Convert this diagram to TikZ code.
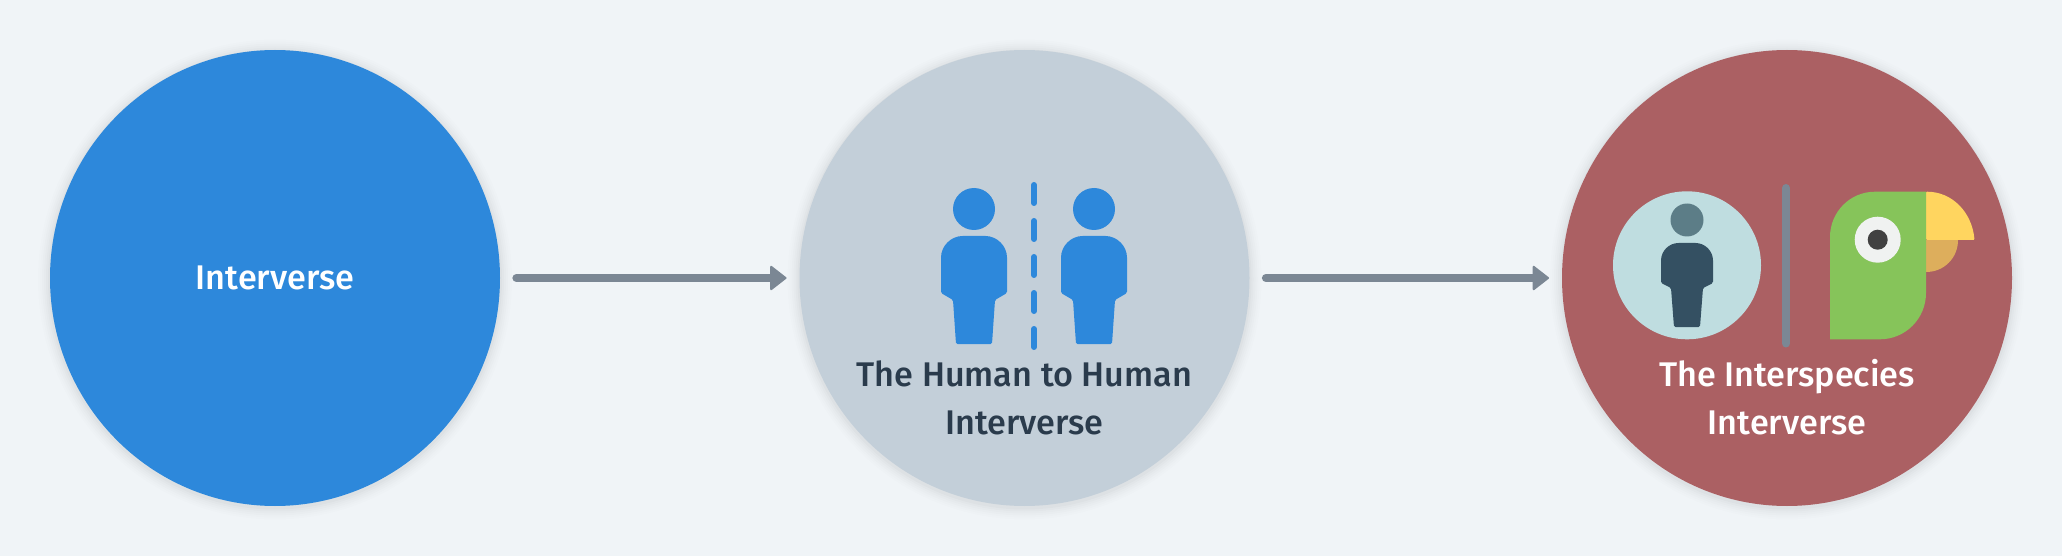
\documentclass[tikz,border=0pt]{standalone}
\usepackage{fontspec}
\setmainfont{Fira Sans}[UprightFont=* Medium]
\usetikzlibrary{arrows.meta,shapes.geometric}
\definecolor{bgc}{HTML}{F0F4F7}
\definecolor{blu}{HTML}{2D88DB}
\definecolor{gry}{HTML}{C3CFD9}
\definecolor{rdc}{HTML}{AB6063}
\definecolor{arr}{HTML}{7B8794}
\definecolor{dkt}{HTML}{2A3B4C}
\definecolor{lbl}{HTML}{BFDDE0}
\definecolor{hdd}{HTML}{5C7D87}
\definecolor{bdd}{HTML}{345062}
\definecolor{grn}{HTML}{86C45A}
\definecolor{yel}{HTML}{FFD55F}
\definecolor{org}{HTML}{DDAE5C}
\definecolor{eyw}{HTML}{F0F2F1}
\definecolor{pup}{HTML}{414141}
\tikzset{
  x=1pt,y=-1pt,
  bigc/.style={ellipse,minimum width=450pt,minimum height=456pt,inner sep=0pt,outer sep=0pt},
  lab/.style={inner sep=0pt,align=center,font=\fontsize{34.2}{48}\selectfont},
  link/.style={arr,line width=8.3pt,line cap=round,shorten <=16.5pt,shorten >=13pt,
    -{Triangle[length=17pt,width=26pt,round,line width=2pt]}},
  fig/.style={blu},
}
\begin{document}
\begin{tikzpicture}
\useasboundingbox (0,0) rectangle (2062,556);
\fill[bgc] (0,0) rectangle (2062,556);
% soft shadows
\foreach \cx in {275,1024.5,1787}{
  \foreach \r/\o in {12/0.006,10/0.008,8/0.010,6/0.012,4/0.016,2/0.02}{
    \fill[black,opacity=\o] (\cx,279.5) ellipse[x radius=225+\r,y radius=228+\r];
  }
}
\node[bigc,fill=blu] (a) at (275,278) {};
\node[bigc,fill=gry] (b) at (1024.5,278) {};
\node[bigc,fill=rdc] (c) at (1787,278) {};
\draw[link] (a) -- (b);
\draw[link] (b) -- (c);
% people
\foreach \dx in {0,120}{
  \begin{scope}[xshift=\dx pt]
    \fill[fig] (974,209) circle[radius=21];
    \fill[fig,rounded corners=1.5pt] (941,259)
      .. controls (941,246) and (951,236) .. (964,236) -- (984,236)
      .. controls (997,236) and (1007,246) .. (1007,259)
      -- (1007,293) -- (995,300) -- (992,344) -- (956,344) -- (953,300) -- (941,293) -- cycle;
  \end{scope}
}
\foreach \ya/\yb in {182/206,218/242,254/278,290/314,326/350}{
  \draw[blu,line width=6pt,line cap=round] (1034,\ya+3) -- (1034,\yb-3);
}
\node[lab,text=white] (t1) at (275,278) {Interverse};
\node[lab,text=dkt,anchor=base] (t2a) at (1024.5,386) {The Human to Human};
\node[lab,text=dkt,anchor=base] (t2b) at (1024.5,434) {Interverse};
\node[lab,text=white,anchor=base] (t3a) at (1787,386) {The Interspecies};
\node[lab,text=white,anchor=base] (t3b) at (1787,434) {Interverse};
% human badge
\fill[lbl] (1687,265.3) circle[radius=74];
\fill[hdd] (1687,220) circle[radius=16.5];
\fill[bdd,rounded corners=1.5pt] (1661,262)
  .. controls (1661,251) and (1669,243) .. (1680,243) -- (1694,243)
  .. controls (1705,243) and (1713,251) .. (1713,262)
  -- (1713,283) -- (1703,288) -- (1700,327) -- (1674,327) -- (1671,288) -- (1661,283) -- cycle;
\draw[arr,line width=8pt,line cap=round] (1786,188) -- (1786,343.5);
% parrot
\fill[org] (1926,240) -- (1958,240) .. controls (1958,258) and (1944,272) .. (1926,272) -- cycle;
\fill[yel,rounded corners=1pt] (1926,191.7) .. controls (1952,191.7) and (1972,212) .. (1974.5,240) -- (1926,240) -- cycle;
\fill[grn] (1830,237) .. controls (1830,212) and (1850,191.7) .. (1875,191.7) -- (1926,191.7) -- (1926,293)
  .. controls (1926,319) and (1905,339.3) .. (1880,339.3) -- (1830,339.3) -- cycle;
\fill[eyw] (1877.7,239.7) circle[radius=23];
\fill[pup] (1877.7,239.7) circle[radius=10];
\end{tikzpicture}
\end{document}
